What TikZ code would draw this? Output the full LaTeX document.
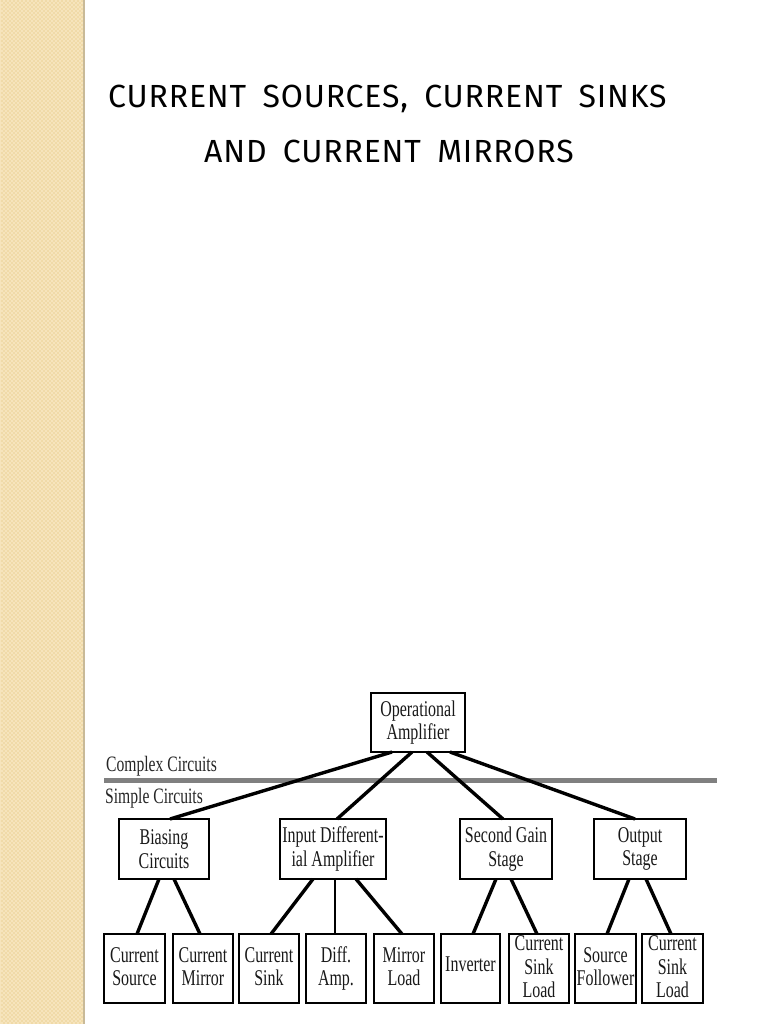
\documentclass[tikz,border=0pt]{standalone}
\usepackage{fontspec}
\setmainfont{Liberation Serif}
\newfontfamily\diagfont[FakeStretch=0.71]{Liberation Serif}
\newfontfamily\titlefont[LetterSpace=2.6,WordSpace=1.75]{Fira Sans}
\definecolor{stripbase}{HTML}{F6E4BC}
\definecolor{stripdot}{HTML}{F0DAA8}
\definecolor{stripedge}{HTML}{C9BA98}
\definecolor{barcolor}{HTML}{808080}
\tikzset{
  box/.style={draw=black,line width=2pt,inner sep=0pt,outer sep=0pt,anchor=north west,align=center,
    font=\diagfont\fontsize{22.5}{23.5}\selectfont,text=black!90},
  link/.style={line width=3.4pt,black},
  thinlink/.style={line width=1.6pt,black},
  titletext/.style={inner sep=0pt,anchor=base west,font=\titlefont\fontsize{32}{32}\selectfont,text=black},
  lane/.style={inner sep=0pt,anchor=base west,font=\diagfont\fontsize{22}{22}\selectfont,text=black!85},
}
\newcommand{\boxat}[6]{\node[box,minimum width=#4pt-#2pt,minimum height=#5pt-#3pt] (#1) at (#2,#3) {#6};}
\newcommand{\lift}[2]{\raisebox{#1}[0pt][0pt]{\begin{tabular}{@{}c@{}}#2\end{tabular}}}
\begin{document}
\begin{tikzpicture}[x=1pt,y=-1pt]
\useasboundingbox (0,0) rectangle (768,1024);
\fill[white] (0,0) rectangle (768,1024);
\fill[stripbase] (0,0) rectangle (83,1024);
\foreach \c in {2,6,...,82}{
  \draw[stripdot,line width=2pt,dash pattern=on 2pt off 2pt] (\c,0) -- (\c,1024);
  \draw[stripdot,line width=2pt,dash pattern=on 2pt off 2pt,dash phase=2pt] (\c+2,0) -- (\c+2,1024);
}
\fill[stripedge] (83,0) rectangle (85,1024);

\node[titletext] (t1) at (108,108) {CURRENT SOURCES, CURRENT SINKS};
\node[titletext] (t2) at (204,163) {AND CURRENT MIRRORS};

\fill[barcolor] (104,778) rectangle (717,782.5);
\node[lane] (complex) at (106,771) {Complex Circuits};
\node[lane] (simple) at (105,803) {Simple Circuits};

\boxat{op}{371}{693}{465}{752}{Operational\\Amplifier}
\boxat{bias}{119}{819}{209}{879}{Biasing\\Circuits}
\boxat{input}{280}{819}{386}{879}{Input Different-\\ial Amplifier}
\boxat{second}{460}{819}{552}{879}{Second Gain\\Stage}
\boxat{output}{594}{819}{686}{879}{Output\\Stage}
\boxat{csource}{104}{934}{165}{1003}{\lift{-6pt}{Current\\Source}}
\boxat{cmirror}{173}{934}{233}{1003}{\lift{-6pt}{Current\\Mirror}}
\boxat{csink}{239}{934}{299}{1003}{\lift{-6pt}{Current\\Sink}}
\boxat{diff}{306}{934}{366}{1003}{\lift{-6pt}{Diff.\\Amp.}}
\boxat{mload}{374}{934}{434}{1003}{\lift{-6pt}{Mirror\\Load}}
\boxat{inv}{441}{934}{500}{1003}{\lift{-3pt}{Inverter}}
\boxat{csla}{509}{934}{569}{1003}{\lift{-6.3pt}{Current\\Sink\\Load}}
\boxat{sf}{575}{934}{636}{1003}{\lift{-6pt}{Source\\Follower}}
\boxat{cslb}{642}{934}{703}{1003}{\lift{-6.3pt}{Current\\Sink\\Load}}

\draw[link] ([xshift=21pt]op.south west) -- ([xshift=51pt]bias.north west);
\draw[link] ([xshift=41pt]op.south west) -- ([xshift=57pt]input.north west);
\draw[link] ([xshift=56pt]op.south west) -- ([xshift=43pt]second.north west);
\draw[link] ([xshift=79pt]op.south west) -- ([xshift=41pt]output.north west);
\draw[link] ([xshift=40pt]bias.south west) -- ([xshift=33pt]csource.north west);
\draw[link] ([xshift=55pt]bias.south west) -- ([xshift=27pt]cmirror.north west);
\draw[link] ([xshift=33pt]input.south west) -- ([xshift=32pt]csink.north west);
\draw[thinlink] ([xshift=55pt]input.south west) -- ([xshift=29pt]diff.north west);
\draw[link] ([xshift=76pt]input.south west) -- ([xshift=28pt]mload.north west);
\draw[link] ([xshift=36pt]second.south west) -- ([xshift=32pt]inv.north west);
\draw[link] ([xshift=51pt]second.south west) -- ([xshift=28pt]csla.north west);
\draw[link] ([xshift=35pt]output.south west) -- ([xshift=32pt]sf.north west);
\draw[link] ([xshift=52pt]output.south west) -- ([xshift=29pt]cslb.north west);
\end{tikzpicture}
\end{document}
